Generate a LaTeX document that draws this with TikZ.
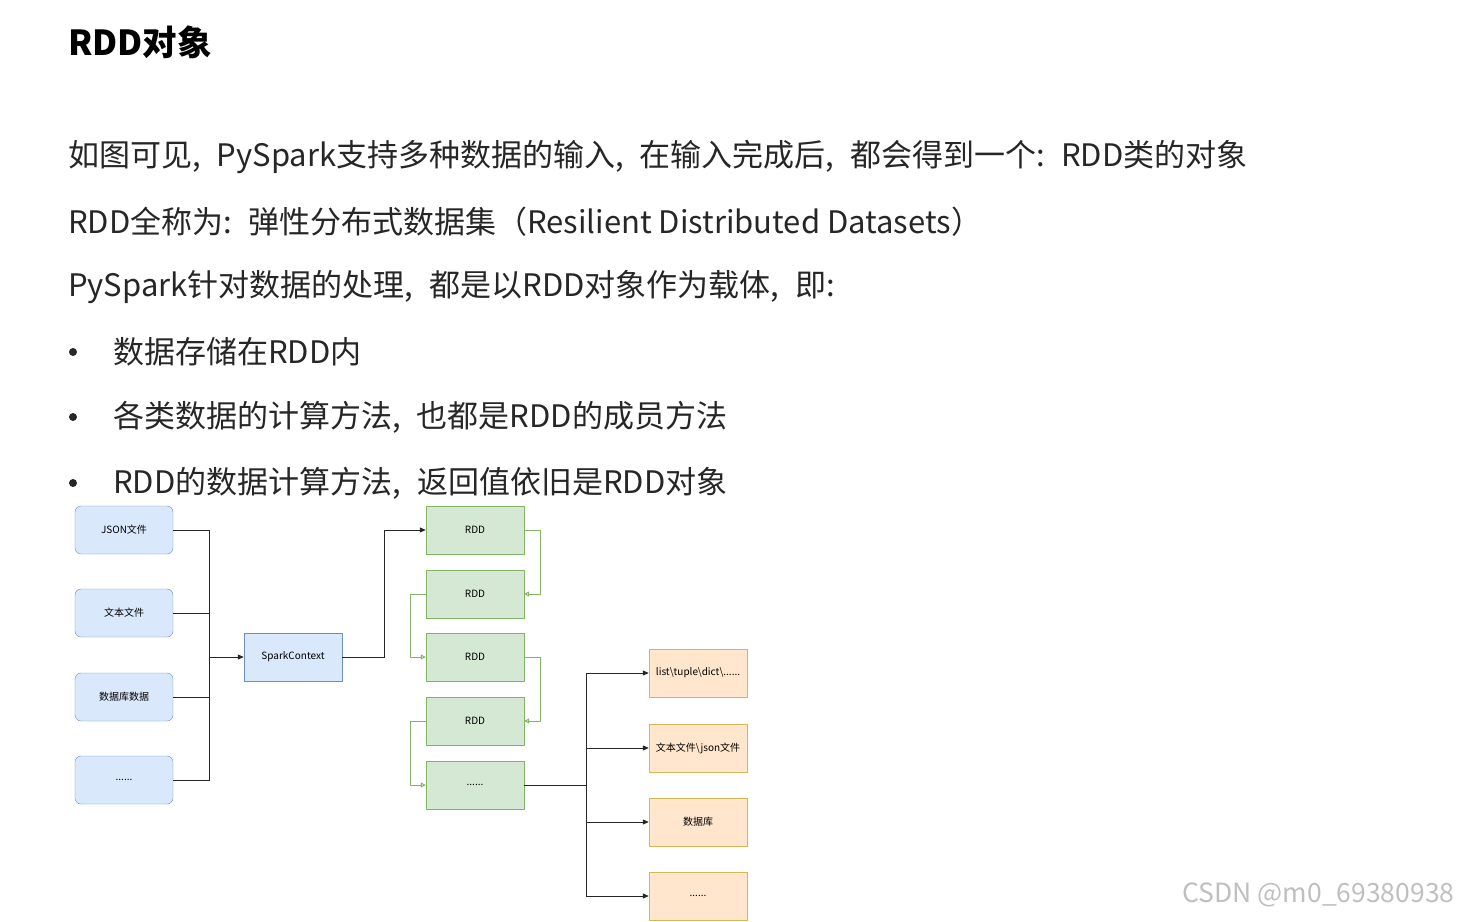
\documentclass[tikz,border=0pt]{standalone}
\usepackage{fontspec}
\setmainfont{Noto Sans CJK SC}
\usetikzlibrary{arrows.meta}
\definecolor{bfill}{HTML}{DAE8FC}\definecolor{bdraw}{HTML}{6C8EBF}
\definecolor{gfill}{HTML}{D5E8D4}\definecolor{gdraw}{HTML}{82B366}
\definecolor{ofill}{HTML}{FFE6CC}\definecolor{odraw}{HTML}{D6B656}
\newcommand{\csp}{\hspace{16pt}}
\tikzset{
 bbox/.style={draw=bdraw,fill=bfill,rounded corners=6pt,minimum width=98pt,minimum height=48pt,font=\fontsize{10}{12}\selectfont},
 sbox/.style={draw=bdraw,fill=bfill,minimum width=98pt,minimum height=48pt,font=\fontsize{10}{12}\selectfont},
 gbox/.style={draw=gdraw,fill=gfill,minimum width=98pt,minimum height=48pt,font=\fontsize{10}{12}\selectfont},
 obox/.style={draw=odraw,fill=ofill,minimum width=98pt,minimum height=48pt,font=\fontsize{10}{12}\selectfont},
 blk/.style={draw=black!85,line width=1pt,-{Triangle[length=6pt,width=5pt]}},
 grn/.style={draw=gdraw,line width=1pt,-{Triangle[open,length=5pt,width=5pt]}},
 body/.style={anchor=west,font=\fontsize{31}{36}\selectfont,text=black!85,inner sep=0pt}
}
\begin{document}
\begin{tikzpicture}[x=1pt,y=-1pt]
\useasboundingbox (0,0) rectangle (1461,921);
\node[anchor=west,inner sep=0pt,font=\fontsize{34.5}{38}\selectfont\bfseries] (title) at (68,42) {RDD对象};
\node[body] (l1) at (68,157) {如图可见,\csp PySpark支持多种数据的输入,\csp 在输入完成后,\csp 都会得到一个:\csp RDD类的对象};
\node[body] (l2) at (68,222) {RDD全称为:\csp 弹性分布式数据集（Resilient Distributed Datasets）};
\node[body] (l3) at (68,287) {PySpark针对数据的处理,\csp 都是以RDD对象作为载体,\csp 即:};
\foreach \y/\t [count=\i] in {352/数据存储在RDD内,417/{各类数据的计算方法,\csp 也都是RDD的成员方法},483/{RDD的数据计算方法,\csp 返回值依旧是RDD对象}}{
 \fill[black!85] (73,\y) circle (4pt);
 \node[body] (b\i) at (113,\y) {\t};
}
\node[bbox] (j) at (124,530) {JSON文件};
\node[bbox] (t) at (124,613) {文本文件};
\node[bbox] (db) at (124,697) {数据库数据};
\node[bbox] (e) at (124,780) {......};
\node[sbox] (sc) at (293,657) {SparkContext};
\foreach \y [count=\i] in {530,594,657,721}{\node[gbox] (r\i) at (475,\y) {RDD};}
\node[gbox] (r5) at (475,785) {......};
\node[obox] (o1) at (698,673) {list\textbackslash tuple\textbackslash dict\textbackslash ......};
\node[obox] (o2) at (698,748) {文本文件\textbackslash json文件};
\node[obox] (o3) at (698,822) {数据库};
\node[obox] (o4) at (698,896) {......};
\foreach \n in {j,t,db,e}{\draw[line width=1pt,black!85] (\n.east) -| (209,657);}
\draw[blk] (209,657) -- (sc.west);
\draw[blk] (sc.east) -- (384,657) |- (r1.west);
\draw[grn] (r1.east) -- (540,530) |- (r2.east);
\draw[grn] (r2.west) -- (410,594) |- (r3.west);
\draw[grn] (r3.east) -- (540,657) |- (r4.east);
\draw[grn] (r4.west) -- (410,721) |- (r5.west);
\foreach \n in {o1,o2,o3,o4}{\draw[blk] (r5.east) -- (586,785) |- (\n.west);}
\node[anchor=east,font=\fontsize{26.5}{30}\selectfont,text=black!25] (wm) at (1458,895) {CSDN @m0\_69380938};
\end{tikzpicture}
\end{document}
